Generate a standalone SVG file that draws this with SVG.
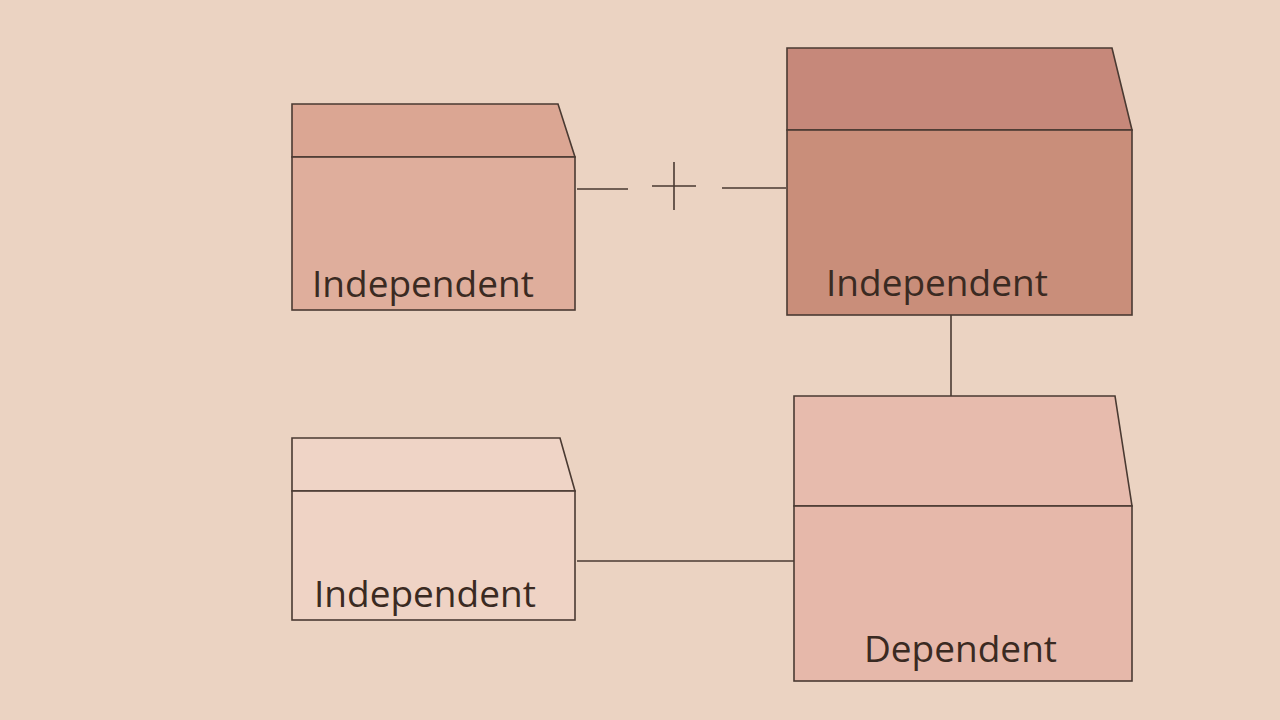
<svg xmlns="http://www.w3.org/2000/svg" width="1280" height="720" viewBox="0 0 1280 720">
<style>
.b{stroke:#4a3a32;stroke-width:1.6}
.t{font-family:"Open Sans","DejaVu Sans",sans-serif;font-size:37px;fill:#3a2a22}
.c{stroke:#4a3a32;stroke-width:1.6;fill:none}
</style>
<rect width="1280" height="720" fill="#ebd3c2"/>
<g id="n1">
<path class="b" fill="#dba693" d="M292,157 V104 H558 L575,157 Z"/>
<rect class="b" fill="#dfae9c" x="292" y="157" width="283" height="153"/>
<text class="t" x="312" y="297">Independent</text>
</g>
<g id="n2">
<path class="b" fill="#c6887a" d="M787,130 V48 H1112 L1132,130 Z"/>
<rect class="b" fill="#c98e7a" x="787" y="130" width="345" height="185"/>
<text class="t" x="826" y="296">Independent</text>
</g>
<g id="n3">
<path class="b" fill="#efd4c6" d="M292,491 V438 H560 L575,491 Z"/>
<rect class="b" fill="#efd3c5" x="292" y="491" width="283" height="129"/>
<text class="t" x="314" y="607">Independent</text>
</g>
<g id="n4">
<path class="b" fill="#e7bbad" d="M794,506 V396 H1115 L1132,506 Z"/>
<rect class="b" fill="#e6b8aa" x="794" y="506" width="338" height="175"/>
<text class="t" x="864" y="662">Dependent</text>
</g>
<g id="connectors">
<path class="c" d="M577,189 H628 M722,188 H786 M652,186 H696 M674,162 V210"/>
<path class="c" d="M951,315 V396"/>
<path class="c" d="M577,561 H794"/>
</g>
</svg>
